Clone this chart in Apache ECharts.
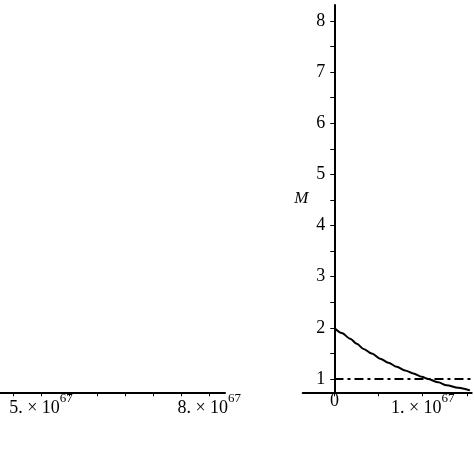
<!DOCTYPE html>
<html>
<head>
<meta charset="utf-8">
<script src="https://cdn.jsdelivr.net/npm/echarts@6/dist/echarts.min.js"></script>
<style>
  html, body { margin: 0; padding: 0; background: #fff; }
  #chart { width: 474px; height: 474px; }
</style>
</head>
<body>
<div id="chart"></div>
<script>
// x values in units of 10^67
const leftTicks = [4.5, 5, 5.5, 6, 6.5, 7, 7.5, 8];
const leftLabels = [5, 8];
const rightXTicks = [0, 0.5, 1, 1.5];
const rightXLabels = [0, 1];
const yTicks = [1, 1.5, 2, 2.5, 3, 3.5, 4, 4.5, 5, 5.5, 6, 6.5, 7, 7.5, 8];
const yLabels = [1, 2, 3, 4, 5, 6, 7, 8];

// M curve
const curveX = [0, 0.083, 0.178, 0.253, 0.33, 0.423, 0.517, 0.611, 0.706, 0.8, 0.894, 0.989, 1.063, 1.177, 1.27, 1.403, 1.535];
const curveM = [2, 1.90, 1.79, 1.69, 1.59, 1.50, 1.40, 1.32, 1.24, 1.17, 1.11, 1.045, 1.0, 0.936, 0.88, 0.83, 0.78];
const refLine = [[0, 1], [1.555, 1]];

const font = "Liberation Serif";
const black = "#000";

function sciLabel(v) {
  if (v === 0) return "{z|0}";
  return "{a|" + v + ". × 10}{b|67}";
}
const rich = {
  z: { fontFamily: font, fontSize: 18, lineHeight: 18, color: black },
  a: { fontFamily: font, fontSize: 18, lineHeight: 18, color: black, verticalAlign: "bottom" },
  b: { fontFamily: font, fontSize: 13, lineHeight: 25, color: black, verticalAlign: "top" },
};

const myChart = echarts.init(document.getElementById("chart"));
myChart.setOption({
  animation: false,
  grid: [
    { left: -10, width: 235, top: 5, bottom: 81.7 },
    { left: 302.7, width: 169, top: 5, bottom: 81.7 },
    { left: 334.3, width: 137.4, top: 5, bottom: 81.7 },
  ],
  xAxis: [
    {
      gridIndex: 0,
      type: "value",
      min: 4.27,
      max: 8.28,
      splitLine: { show: false },
      axisLine: { onZero: false, lineStyle: { color: black, width: 2 } },
      axisTick: { customValues: leftTicks, length: 4, lineStyle: { color: black } },
      axisLabel: { customValues: leftLabels, formatter: sciLabel, rich: rich, margin: 0 },
    },
    {
      gridIndex: 1,
      type: "value",
      min: -0.36,
      max: 1.555,
      splitLine: { show: false },
      axisLine: { onZero: false, lineStyle: { color: black, width: 2 } },
      axisTick: { customValues: rightXTicks, length: 4, lineStyle: { color: black } },
      axisLabel: { customValues: rightXLabels, formatter: sciLabel, rich: rich, margin: 0 },
    },
    {
      gridIndex: 2,
      type: "value",
      min: 0,
      max: 1.555,
      show: false,
    },
  ],
  yAxis: [
    {
      gridIndex: 0,
      type: "value",
      min: 0.742,
      max: 8.31,
      show: false,
    },
    {
      gridIndex: 1,
      type: "value",
      min: 0.742,
      max: 8.31,
      show: false,
    },
    {
      gridIndex: 2,
      type: "value",
      min: 0.742,
      max: 8.31,
      name: "M",
      nameLocation: "middle",
      nameGap: 26,
      nameRotate: 0,
      nameMoveOverlap: false,
      nameTextStyle: { fontFamily: font, fontSize: 17, fontStyle: "italic", color: black },
      splitLine: { show: false },
      axisLine: { onZero: false, lineStyle: { color: black, width: 2 } },
      axisTick: { customValues: yTicks, length: 4, lineStyle: { color: black } },
      axisLabel: { customValues: yLabels, fontFamily: font, fontSize: 18, color: black, margin: 9 },
    },
  ],
  series: [
    {
      type: "line",
      xAxisIndex: 1,
      yAxisIndex: 1,
      data: curveX.map((x, i) => [x, curveM[i]]),
      smooth: 0.3,
      smoothMonotone: "x",
      showSymbol: false,
      lineStyle: { color: black, width: 2 },
    },
    {
      type: "line",
      xAxisIndex: 1,
      yAxisIndex: 1,
      data: refLine,
      showSymbol: false,
      lineStyle: { color: black, width: 2, type: [9, 4, 3, 4] },
    },
  ],
});
</script>
</body>
</html>
